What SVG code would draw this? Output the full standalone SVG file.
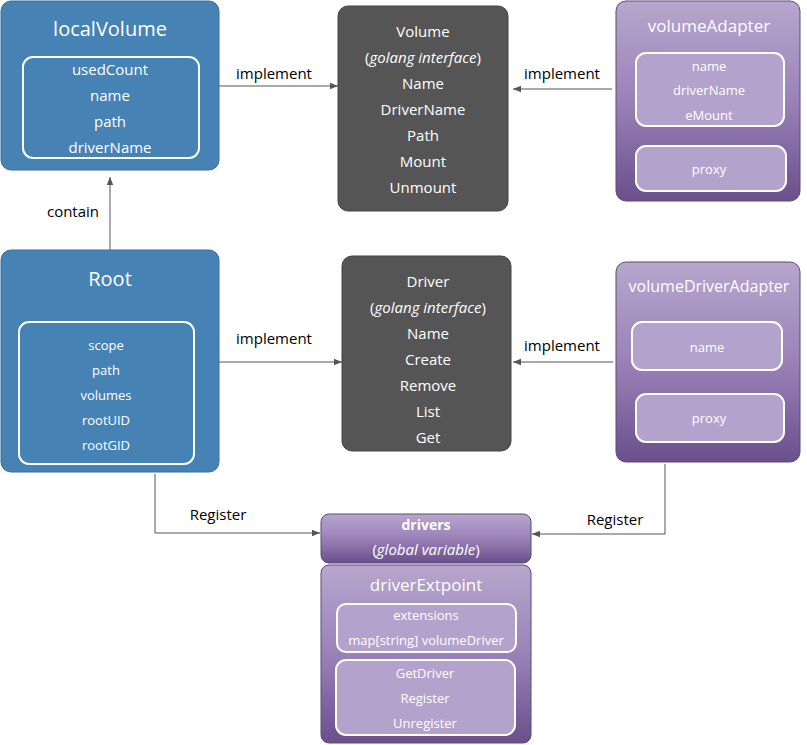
<svg xmlns="http://www.w3.org/2000/svg" width="807" height="745" viewBox="0 0 807 745">
<defs>
<linearGradient id="pg" x1="0" y1="0" x2="0" y2="1"><stop offset="0" stop-color="#b7a6cd"/><stop offset="0.5" stop-color="#9a82b8"/><stop offset="1" stop-color="#6a4f8c"/></linearGradient>
<marker id="ar" viewBox="0 0 10 10" refX="10" refY="5" markerWidth="8" markerHeight="8" orient="auto"><path d="M0,1 L10,5 L0,9 z" fill="#555"/></marker>
<style>
text{font-family:"Segoe UI","Open Sans","Liberation Sans",sans-serif;fill:#fff;text-anchor:middle}
.blue{fill:#4682b4;stroke:#3a6f9c;stroke-width:1}
.dark{fill:#555;stroke:#444}
.pur{fill:url(#pg);stroke:#5d4a78}
.inB{fill:none;stroke:#fff;stroke-width:2}
.inP{fill:#b3a2cb;stroke:#fff;stroke-width:2}
.c{stroke:#555;fill:none;stroke-width:1;marker-end:url(#ar)}
.lbl{fill:#000;font-size:15px}
</style>
</defs>
<g id="connectors">
<path class="c" d="M219,86 H338"/><text class="lbl" x="274" y="79">implement</text>
<path class="c" d="M612,89 H513"/><text class="lbl" x="562" y="79">implement</text>
<path class="c" d="M110,250 V177"/><text class="lbl" x="73" y="217">contain</text>
<path class="c" d="M219,362 H342"/><text class="lbl" x="274" y="344">implement</text>
<path class="c" d="M613,362 H513"/><text class="lbl" x="562" y="351">implement</text>
<path class="c" d="M155,474 V533 H320"/><text class="lbl" x="218" y="520">Register</text>
<path class="c" d="M665,464 V534 H532"/><text class="lbl" x="615" y="525">Register</text>
</g>
<g id="localVolume">
<rect class="blue" x="1" y="1" width="218" height="169" rx="10"/>
<text x="110" y="36" font-size="20">localVolume</text>
<rect class="inB" x="23" y="57" width="176" height="101" rx="10"/>
<text x="110" y="75" font-size="15">usedCount</text><text x="110" y="101" font-size="15">name</text><text x="110" y="127" font-size="15">path</text><text x="110" y="153" font-size="15">driverName</text>
</g>
<g id="volume">
<rect class="dark" x="338" y="6" width="170" height="205" rx="10"/>
<text x="423" y="37" font-size="15">Volume</text>
<text x="423" y="63" font-size="15">(<tspan font-style="italic">golang interface</tspan>)</text>
<text x="423" y="89" font-size="15">Name</text><text x="423" y="115" font-size="15">DriverName</text><text x="423" y="141" font-size="15">Path</text><text x="423" y="167" font-size="15">Mount</text><text x="423" y="193" font-size="15">Unmount</text>
</g>
<g id="volumeAdapter">
<rect class="pur" x="616" y="1" width="184" height="200" rx="10"/>
<text x="709" y="32" font-size="17">volumeAdapter</text>
<rect class="inP" x="636" y="53" width="148" height="73" rx="10"/>
<text x="709" y="71" font-size="13">name</text><text x="709" y="95" font-size="13">driverName</text><text x="709" y="120" font-size="13">eMount</text>
<rect class="inP" x="636" y="146" width="150" height="45" rx="10"/>
<text x="709" y="174" font-size="13">proxy</text>
</g>
<g id="root">
<rect class="blue" x="1" y="250" width="218" height="222" rx="10"/>
<text x="110" y="286" font-size="20">Root</text>
<rect class="inB" x="19" y="322" width="175" height="142" rx="10"/>
<text x="106" y="350" font-size="13">scope</text><text x="106" y="375" font-size="13">path</text><text x="106" y="400" font-size="13">volumes</text><text x="106" y="425" font-size="13">rootUID</text><text x="106" y="450" font-size="13">rootGID</text>
</g>
<g id="driver">
<rect class="dark" x="342" y="256" width="169" height="195" rx="10"/>
<text x="428" y="287" font-size="15">Driver</text>
<text x="428" y="313" font-size="15">(<tspan font-style="italic">golang interface</tspan>)</text>
<text x="428" y="339" font-size="15">Name</text><text x="428" y="365" font-size="15">Create</text><text x="428" y="391" font-size="15">Remove</text><text x="428" y="417" font-size="15">List</text><text x="428" y="443" font-size="15">Get</text>
</g>
<g id="volumeDriverAdapter">
<rect class="pur" x="616" y="262" width="184" height="200" rx="10"/>
<text x="709" y="292" font-size="16">volumeDriverAdapter</text>
<rect class="inP" x="632" y="322" width="150" height="48" rx="10"/>
<text x="707" y="352" font-size="13">name</text>
<rect class="inP" x="636" y="394" width="148" height="48" rx="10"/>
<text x="709" y="423" font-size="13">proxy</text>
</g>
<g id="drivers">
<rect class="pur" x="321" y="514" width="210" height="49" rx="8"/>
<text x="426" y="530" font-size="14" font-weight="bold">drivers</text>
<text x="426" y="555" font-size="15">(<tspan font-style="italic">global variable</tspan>)</text>
</g>
<g id="driverExtpoint">
<rect class="pur" x="321" y="565" width="210" height="178" rx="8"/>
<text x="426" y="591" font-size="17">driverExtpoint</text>
<rect class="inP" x="337" y="604" width="179" height="48" rx="9"/>
<text x="426" y="620" font-size="13">extensions</text><text x="426" y="645" font-size="13">map[string] volumeDriver</text>
<rect class="inP" x="336" y="660" width="179" height="75" rx="10"/>
<text x="425" y="678" font-size="13">GetDriver</text><text x="425" y="703" font-size="13">Register</text><text x="425" y="728" font-size="13">Unregister</text>
</g>
</svg>
